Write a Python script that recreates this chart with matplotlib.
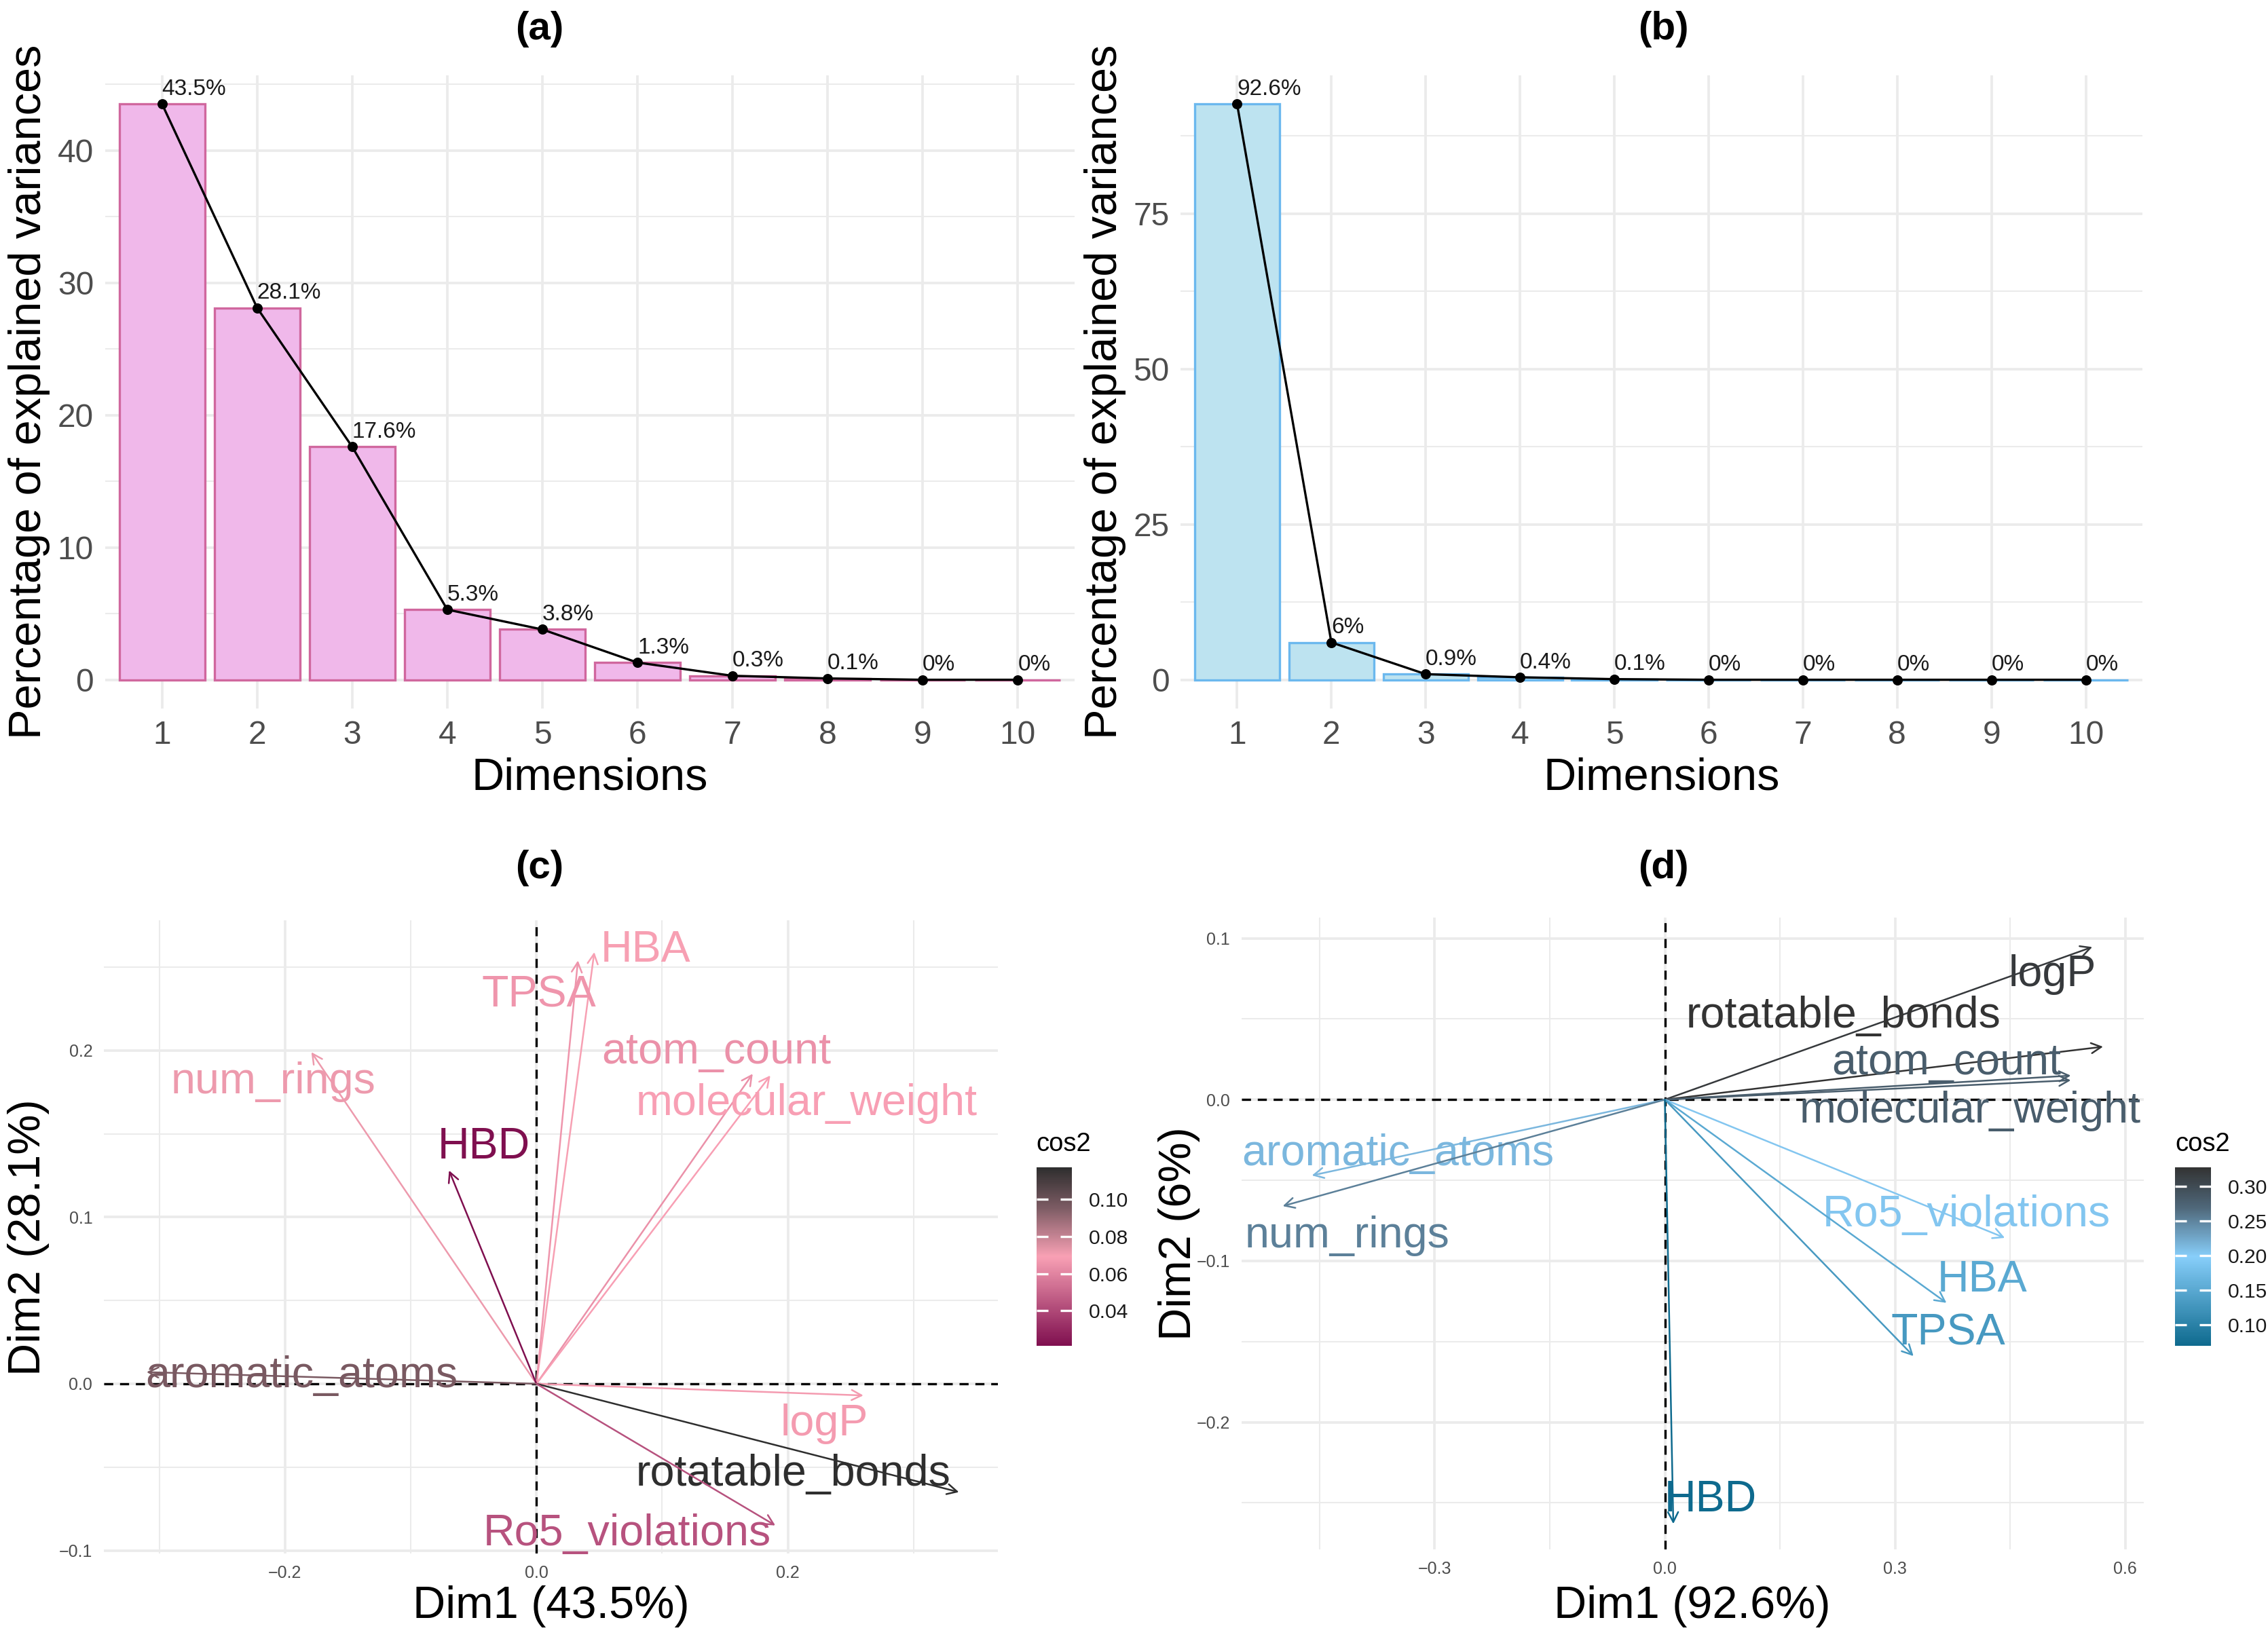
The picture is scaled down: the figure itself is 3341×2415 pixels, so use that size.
import numpy as np
import matplotlib
matplotlib.use("Agg")
import matplotlib.pyplot as plt
from matplotlib.colors import LinearSegmentedColormap, Normalize

plt.rcParams['font.family'] = ['Liberation Sans', 'DejaVu Sans']

# scree data
dims = np.arange(1, 11)
var_a = [43.5, 28.1, 17.6, 5.3, 3.8, 1.3, 0.3, 0.1, 0.0, 0.0]
var_b = [92.6, 6.0, 0.9, 0.4, 0.1, 0.0, 0.0, 0.0, 0.0, 0.0]

# variable coordinates (Dim1, Dim2)
vars_c = ["HBA", "TPSA", "atom_count", "molecular_weight", "num_rings", "HBD",
          "aromatic_atoms", "logP", "rotatable_bonds", "Ro5_violations"]
x_c = [0.046, 0.033, 0.172, 0.186, -0.179, -0.0695, -0.310, 0.260, 0.336, 0.190]
y_c = [0.259, 0.254, 0.186, 0.185, 0.199, 0.128, 0.007, -0.007, -0.065, -0.085]
lab_x_c = [0.087, 0.002, 0.143, 0.215, -0.209, -0.042, -0.187, 0.229, 0.204, 0.072]
lab_y_c = [0.260, 0.233, 0.199, 0.168, 0.181, 0.142, 0.005, -0.024, -0.054, -0.090]

vars_d = ["logP", "rotatable_bonds", "atom_count", "molecular_weight", "aromatic_atoms",
          "num_rings", "Ro5_violations", "HBA", "TPSA", "HBD"]
x_d = [0.557, 0.571, 0.529, 0.529, -0.460, -0.498, 0.443, 0.367, 0.324, 0.011]
y_d = [0.0946, 0.0328, 0.0149, 0.012, -0.047, -0.066, -0.0857, -0.126, -0.159, -0.263]
lab_x_d = [0.505, 0.233, 0.367, 0.398, -0.348, -0.414, 0.393, 0.414, 0.369, 0.060]
lab_y_d = [0.0776, 0.052, 0.023, -0.007, -0.0334, -0.0845, -0.0716, -0.112, -0.145, -0.248]

W, H = 3341, 2415
fig = plt.figure(figsize=(W / 300, H / 300), dpi=300)

grid_col = "#EBEBEB"
tick_col = "#4D4D4D"


def style(ax):
    for s in ax.spines.values():
        s.set_visible(False)
    ax.tick_params(length=0, colors=tick_col)
    ax.grid(True, which="major", color=grid_col, lw=0.9)
    ax.grid(True, which="minor", color=grid_col, lw=0.5)
    ax.set_axisbelow(True)


def scree(rect, vals, fill, edge, yticks):
    ax = fig.add_axes(rect)
    style(ax)
    ax.bar(dims, vals, width=0.9, color=fill, edgecolor=edge, lw=0.8)
    ax.plot(dims, vals, color="black", lw=0.8, marker="o", ms=2.6)
    for d, v in zip(dims, vals):
        ax.annotate(f"{v:g}%", (d, v), xytext=(0, 1.5), textcoords="offset points",
                    ha="left", va="bottom", fontsize=8, color="#1A1A1A")
    ax.set_xlim(0.4, 10.6)
    ax.set_ylim(-max(vals) * 0.05, max(vals) * 1.05)
    ax.set_xticks(dims)
    ax.set_yticks(yticks)
    step = yticks[1] - yticks[0]
    ax.set_yticks([t + step / 2 for t in yticks], minor=True)
    ax.tick_params(which="minor", length=0)
    ax.tick_params(axis="both", labelsize=11.5, pad=4)
    ax.grid(False, axis="x", which="minor")
    ax.set_xlabel("Dimensions", fontsize=16, va="center")
    ax.set_ylabel("Percentage of explained variances", fontsize=16, va="center")
    ax.xaxis.set_label_coords(0.5, -0.11)
    ax.yaxis.set_label_coords(-0.078, 0.5)
    return ax


scree([0.0463, 0.5677, 0.4276, 0.3864], var_a, "#F0B8EA", "#D0679E", [0, 10, 20, 30, 40])
scree([0.5205, 0.5677, 0.4241, 0.3864], var_b, "#BDE3F0", "#6BB8EE", [0, 25, 50, 75])


def varplot(rect, cbrect, names, xs, ys, lx, ly, colors, xlim, ylim, xt, xtm, yt, ytm,
            xlab, ylab, cbticks, ylab_x, xlab_y):
    ax = fig.add_axes(rect)
    style(ax)
    xs = np.array(xs)
    ys = np.array(ys)
    cos2 = xs ** 2 + ys ** 2
    cmap = LinearSegmentedColormap.from_list("g", colors)
    norm = Normalize(cos2.min(), cos2.max())
    ax.axhline(0, color="black", ls=(0, (4, 3)), lw=0.8)
    ax.axvline(0, color="black", ls=(0, (4, 3)), lw=0.8)
    for n, x, y, tx, ty, c in zip(names, xs, ys, lx, ly, cos2):
        col = cmap(norm(c))
        ax.annotate("", xy=(x, y), xytext=(0, 0),
                    arrowprops=dict(arrowstyle="->,head_length=0.35,head_width=0.18",
                                    color=col, lw=0.6, shrinkA=0, shrinkB=0))
        ax.text(tx, ty, n, color=col, fontsize=15.5, ha="center", va="center")
    ax.set_xlim(*xlim)
    ax.set_ylim(*ylim)
    ax.set_xticks(xt)
    ax.set_xticks(xtm, minor=True)
    ax.set_yticks(yt)
    ax.set_yticks(ytm, minor=True)
    ax.tick_params(which="minor", length=0)
    ax.tick_params(axis="both", labelsize=6, pad=4)
    ax.set_xlabel(xlab, fontsize=16, va="center")
    ax.set_ylabel(ylab, fontsize=16, va="center")
    ax.xaxis.set_label_coords(0.5, xlab_y)
    ax.yaxis.set_label_coords(ylab_x, 0.5)

    cax = fig.add_axes(cbrect)
    sm = plt.cm.ScalarMappable(norm=norm, cmap=cmap)
    cb = fig.colorbar(sm, cax=cax, ticks=cbticks)
    cb.outline.set_visible(False)
    cb.ax.tick_params(length=4, width=0.8, color="white", direction="in", labelsize=7.2,
                      pad=6, labelcolor="#1A1A1A", left=True)
    cb.ax.set_yticklabels([f"{t:.2f}" for t in cbticks])
    cax.text(0, 1.06, "cos2", transform=cax.transAxes, fontsize=9.2, ha="left", va="bottom")
    return ax


# gradient stops: low -> mid -> (darker blend) -> high
grad_c = [(0.0, "#7F0F4F"), (0.5, "#F8A0B4"), (0.78, "#7A5A62"), (1.0, "#2E2E2E")]
grad_d = [(0.0, "#0E6A8E"), (0.5, "#87CEFA"), (0.78, "#4E6678"), (1.0, "#333333")]

varplot([0.0458, 0.052, 0.3942, 0.3864], [0.457, 0.1789, 0.0156, 0.1089],
        vars_c, x_c, y_c, lab_x_c, lab_y_c, grad_c,
        (-0.344, 0.367), (-0.102, 0.278), [-0.2, 0.0, 0.2], [-0.3, -0.1, 0.1, 0.3],
        [-0.1, 0.0, 0.1, 0.2], [-0.05, 0.05, 0.15, 0.25],
        "Dim1 (43.5%)", "Dim2 (28.1%)", [0.04, 0.06, 0.08, 0.10], -0.084, -0.083)

varplot([0.5473, 0.0545, 0.3979, 0.3858], [0.959, 0.1789, 0.0159, 0.1089],
        vars_d, x_d, y_d, lab_x_d, lab_y_d, grad_d,
        (-0.552, 0.624), (-0.279, 0.113), [-0.3, 0.0, 0.3, 0.6], [-0.45, -0.15, 0.15, 0.45],
        [-0.2, -0.1, 0.0, 0.1], [-0.25, -0.15, -0.05, 0.05],
        "Dim1 (92.6%)", "Dim2 (6%)", [0.10, 0.15, 0.20, 0.25, 0.30], -0.069, -0.09)

for lab, x, y in [("(a)", 0.2379, 0.9823), ("(b)", 0.7334, 0.9823),
                  ("(c)", 0.2379, 0.4704), ("(d)", 0.7334, 0.4704)]:
    fig.text(x, y, lab, fontsize=14, fontweight="bold", ha="center", va="center")

fig.savefig("out.png", dpi=300)
